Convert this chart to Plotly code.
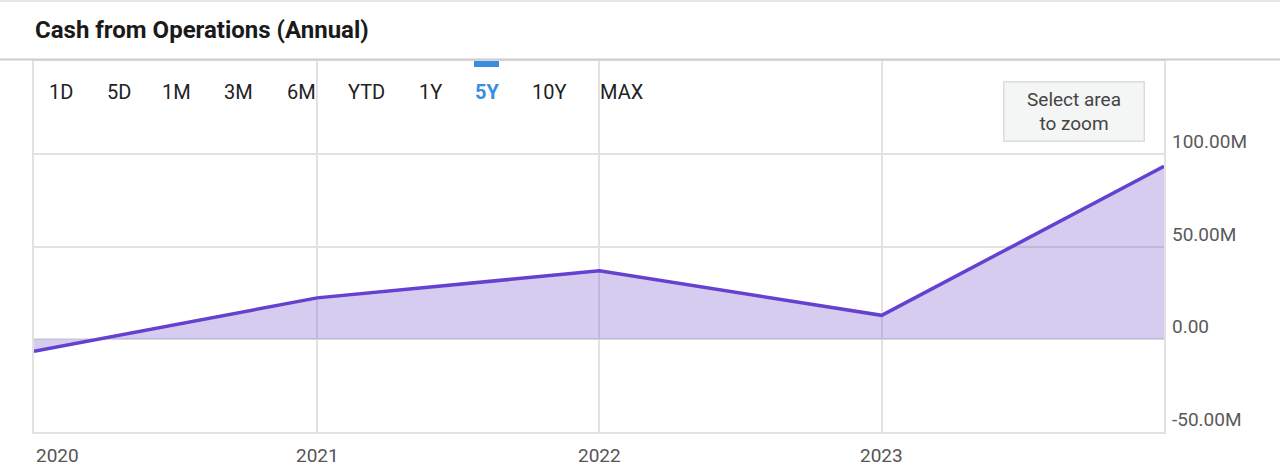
import plotly.graph_objects as go

# annual cash from operations (USD)
years = ["2020-01-01", "2021-01-01", "2022-01-01", "2023-01-01", "2024-01-01"]
cash_ops = [-6.5e6, 22.3e6, 36.9e6, 12.9e6, 93.2e6]

x_tick_dates = ["2020-01-01", "2021-01-01", "2022-01-01", "2023-01-01"]
x_tick_labels = ["2020", "2021", "2022", "2023"]
y_tick_vals = [100e6, 50e6, 0, -50e6]
y_tick_labels = ["100.00M", "50.00M", "0.00", "-50.00M"]

range_buttons = ["1D", "5D", "1M", "3M", "6M", "YTD", "1Y", "5Y", "10Y", "MAX"]
button_px = [61, 119, 176, 238, 301, 366, 430, 487, 549, 622]
active_button = "5Y"

W, H = 1280, 473
L, R, T, B = 34, 116, 61, 41
plot_w = W - L - R
plot_h = H - T - B

FONT = "Roboto, sans-serif"
GRID = "#e2e2e2"


def px_x(px):
    # pixel column -> paper x
    return (px - L) / plot_w


def px_y(py):
    # pixel row -> paper y
    return (H - B - py) / plot_h


fig = go.Figure()
fig.add_trace(go.Scatter(
    x=years, y=cash_ops, mode="lines",
    line=dict(color="#6541d0", width=3.5),
    fill="tozeroy", fillcolor="rgba(103,65,200,0.27)",
    hoverinfo="skip",
))

ann = []
# y labels sit just above their gridline, right of the plot
for v, t in zip(y_tick_vals, y_tick_labels):
    ann.append(dict(x=1, xref="paper", xanchor="left", xshift=6,
                    y=v, yref="y", yanchor="bottom", yshift=-1,
                    text=t, showarrow=False,
                    font=dict(family=FONT, size=19, color="#5a5a5a")))
# x labels
for i, (d, t) in enumerate(zip(x_tick_dates, x_tick_labels)):
    ann.append(dict(x=d, xref="x", xanchor="left" if i == 0 else "center",
                    y=0, yref="paper", yanchor="top", yshift=-10,
                    text=t, showarrow=False,
                    font=dict(family=FONT, size=19, color="#555555")))
# fake range selector
for b, px in zip(range_buttons, button_px):
    active = b == active_button
    ann.append(dict(x=px_x(px), xref="paper", xanchor="center",
                    y=px_y(92), yref="paper", yanchor="middle",
                    text=f"<b>{b}</b>" if active else b, showarrow=False,
                    font=dict(family=FONT, size=20,
                              color="#3b8de0" if active else "#222222")))
# zoom hint box
ann.append(dict(x=px_x(1074), xref="paper", xanchor="center",
                y=px_y(111), yref="paper", yanchor="middle",
                text="Select area<br>to zoom", showarrow=False, align="center",
                width=137, height=56,
                bgcolor="#f4f5f5", bordercolor="#dcdcdc", borderwidth=1.5,
                font=dict(family=FONT, size=19, color="#444444")))
# title
ann.append(dict(x=px_x(33), xref="paper", xanchor="left",
                y=px_y(30), yref="paper", yanchor="middle",
                text="<b>Cash from Operations (Annual)</b>", showarrow=False,
                font=dict(family=FONT, size=24, color="#1a1a1a")))

shapes = [
    # separator under the title, full width
    dict(type="line", xref="paper", yref="paper",
         x0=px_x(0), x1=px_x(W), y0=px_y(59.5), y1=px_y(59.5),
         line=dict(color="#cccccc", width=2)),
    # thin line at very top of the card
    dict(type="line", xref="paper", yref="paper",
         x0=px_x(0), x1=px_x(W), y0=px_y(1), y1=px_y(1),
         line=dict(color="#dddddd", width=1.5)),
    # active range marker
    dict(type="rect", xref="paper", yref="paper",
         x0=px_x(474), x1=px_x(499), y0=px_y(67), y1=px_y(61),
         fillcolor="#3b8de0", line=dict(width=0)),
]

fig.update_layout(
    width=W, height=H,
    margin=dict(l=L, r=R, t=T, b=B),
    paper_bgcolor="white", plot_bgcolor="white",
    showlegend=False,
    annotations=ann, shapes=shapes,
    xaxis=dict(type="date", range=["2020-01-01", "2024-01-01"],
               tickvals=years, showticklabels=False,
               showgrid=True, gridcolor=GRID, gridwidth=1.5,
               showline=True, linecolor=GRID, linewidth=1.5, mirror=True,
               zeroline=False, fixedrange=True),
    yaxis=dict(range=[-50e6, 150e6], tickvals=y_tick_vals, showticklabels=False,
               showgrid=True, gridcolor=GRID, gridwidth=1.5,
               showline=True, linecolor=GRID, linewidth=1.5, mirror=True,
               zeroline=False, fixedrange=True),
)

# drop the default page margin so the figure sits at the window corner
fig.write_html("out.html", config={"displayModeBar": False},
               post_script="document.body.style.margin='0';")
